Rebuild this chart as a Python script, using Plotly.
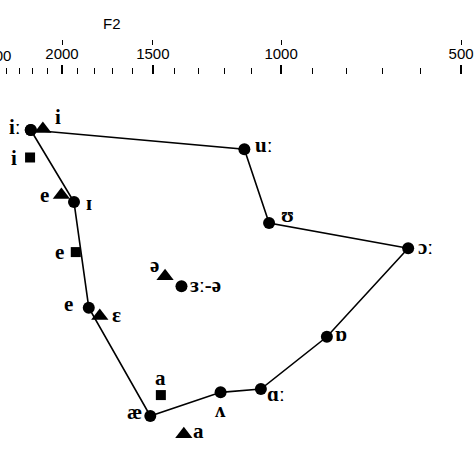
import numpy as np
import plotly.graph_objects as go

# ---- data (F1, F2 in Hz) ----
poly_labels = ["iː", "uː", "ʊ", "ɔː", "ɒ", "ɑː", "ʌ", "æ", "e", "ɪ"]
poly_f2 = [2216, 1126, 1040, 632, 857, 1068, 1214, 1512, 1835, 1924]
poly_f1 = [280, 315, 449, 495, 656, 751, 757, 800, 603, 411]

mid_labels = ["ɜː-ə"]
mid_f2 = [1372]
mid_f1 = [564]

tri_labels = ["i", "e", "ɛ", "ə", "a"]
tri_f2 = [2129, 2004, 1772, 1444, 1362]
tri_f1 = [278, 398, 618, 546, 833]

sq_labels = ["i", "e", "a"]
sq_f2 = [2221, 1913, 1463]
sq_f1 = [330, 502, 762]

major_ticks = [2500, 2000, 1500, 1000, 500]
major_text = ["2500", "2000", "1500", "1000", "500"]
minor_ticks = [2400, 2300, 2200, 2100, 1900, 1800, 1700, 1600,
               1400, 1300, 1200, 1100, 900, 800, 700, 600]


def bark(f):
    f = np.asarray(f, dtype=float)
    return 13 * np.arctan(0.00076 * f) + 3.5 * np.arctan((f / 7500.0) ** 2)


# label offsets in px (dx right, dy down)
poly_off = [(-16, -3), (20, -4), (18, -8), (17, -1), (14, -3), (15, 5),
            (0, 18), (-16, -4), (-20, -4), (15, 1)]
tri_off = [(15, -12), (-17, 0), (17, -1), (-11, -11), (15, -3)]
sq_off = [(-16, 1), (-16, 0), (0, -17)]

XR = [14.404, 4.529]
YR = [905.5, 180]
W = H = 474
TOP = 39
PLOT_TOP = 75
LBL_FONT = dict(family="Liberation Serif, DejaVu Serif, serif", size=21, color="black")
TICK_FONT = dict(family="Liberation Sans, Arial, sans-serif", size=15, color="black")

fig = go.Figure()
px = list(bark(poly_f2)) + [float(bark(poly_f2[0]))]
py = list(poly_f1) + [poly_f1[0]]
fig.add_trace(go.Scatter(x=px, y=py, mode="lines+markers",
                         line=dict(color="black", width=1.6),
                         marker=dict(symbol="circle", size=12, color="black"),
                         showlegend=False, hoverinfo="skip"))
fig.add_trace(go.Scatter(x=bark(mid_f2), y=mid_f1, mode="markers",
                         marker=dict(symbol="circle", size=12, color="black"),
                         showlegend=False, hoverinfo="skip"))
fig.add_trace(go.Scatter(x=bark(tri_f2), y=tri_f1, mode="markers",
                         marker=dict(symbol="triangle-up", size=15, color="black"),
                         showlegend=False, hoverinfo="skip"))
fig.add_trace(go.Scatter(x=bark(sq_f2), y=sq_f1, mode="markers",
                         marker=dict(symbol="square", size=10, color="black"),
                         showlegend=False, hoverinfo="skip"))

anns = []


def add_labels(labels, f2, f1, offs):
    for t, a, b, (dx, dy) in zip(labels, f2, f1, offs):
        anns.append(dict(x=float(bark(a)), y=b, xref="x", yref="y", text="<b>%s</b>" % t,
                         showarrow=False, xshift=dx, yshift=-dy, font=LBL_FONT,
                         xanchor="center", yanchor="middle"))


add_labels(poly_labels, poly_f2, poly_f1, poly_off)
add_labels(tri_labels, tri_f2, tri_f1, tri_off)
add_labels(sq_labels, sq_f2, sq_f1, sq_off)
for t, a, b in zip(mid_labels, mid_f2, mid_f1):
    anns.append(dict(x=float(bark(a)), y=b, xref="x", yref="y", text="<b>%s</b>" % t,
                     showarrow=False, xshift=7, yshift=1, font=LBL_FONT,
                     xanchor="left", yanchor="middle"))

# off-range 2500 tick label (partially cut at left edge)
frac2500 = (XR[0] - float(bark(2500))) / (XR[0] - XR[1])
anns.append(dict(x=frac2500, y=1 - (55 - TOP) / (H - TOP),
                 xref="paper", yref="paper", text="2500", showarrow=False,
                 font=TICK_FONT, xanchor="center", yanchor="middle"))
# axis title
anns.append(dict(x=113 / W, y=1 + 15 / (H - TOP), xref="paper", yref="paper", text="F2",
                 showarrow=False, font=TICK_FONT, xanchor="center", yanchor="middle"))

fig.update_layout(
    width=W, height=H,
    margin=dict(l=0, r=0, t=TOP, b=0),
    paper_bgcolor="white", plot_bgcolor="white",
    annotations=anns,
    xaxis=dict(range=XR, side="top", anchor="y", showgrid=False, zeroline=False,
               showline=False, tickmode="array", tickvals=list(bark(major_ticks)),
               ticktext=major_text, ticks="outside", ticklen=9, tickwidth=2,
               tickcolor="black", tickfont=TICK_FONT, ticklabeloverflow="allow",
               minor=dict(tickmode="array", tickvals=list(bark(minor_ticks)),
                          ticks="outside", ticklen=6, tickwidth=1, tickcolor="black",
                          showgrid=False)),
    xaxis2=dict(range=XR, overlaying="x", side="top", anchor="free", position=1,
                showgrid=False, zeroline=False, showline=False, tickmode="array",
                tickvals=list(bark(major_ticks)), ticks="inside", ticklen=5,
                tickwidth=1, tickcolor="black", showticklabels=False),
    yaxis=dict(range=YR, domain=[0, (H - PLOT_TOP) / (H - TOP)], visible=False,
               showgrid=False, zeroline=False),
)
fig.add_trace(go.Scatter(x=[None], y=[None], xaxis="x2", showlegend=False, hoverinfo="skip"))

fig.write_html("out.html", config={"displayModeBar": False},
               post_script="document.body.style.margin='0';document.body.style.overflow='hidden';")
